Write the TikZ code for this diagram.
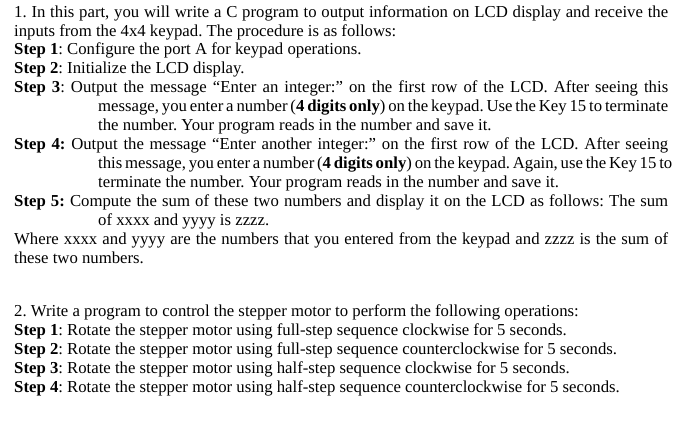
\documentclass[tikz,border=0pt]{standalone}
\usepackage{fontspec}
\setmainfont{Liberation Serif}
\frenchspacing
\begin{document}
\begin{tikzpicture}[x=1bp,y=-1bp,
  ln/.style={anchor=base west,inner sep=0pt,font=\fontsize{16.8}{19}\selectfont}]
\useasboundingbox (0,0) rectangle (700,428);
\fill[white] (0,0) rectangle (700,428);
\node[ln] (l1) at (14,17) {\makebox[654bp][s]{1. In this part, you will write a C program to output information on LCD display and receive the}};
\node[ln] (l2) at (14,36) {inputs from the 4x4 keypad. The procedure is as follows:};
\node[ln] (l3) at (14,54) {\textbf{Step 1}: Configure the port A for keypad operations.};
\node[ln] (l4) at (14,73) {\textbf{Step 2}: Initialize the LCD display.};
\node[ln] (l5) at (14,92) {\makebox[654bp][s]{\textbf{Step 3}: Output the message ``Enter an integer:'' on the first row of the LCD. After seeing this}};
\node[ln] (l6) at (98,111) {\makebox[570bp][s]{message, you enter a number (\textbf{4 digits only}) on the keypad. Use the Key 15 to terminate}};
\node[ln] (l7) at (98,130) {the number. Your program reads in the number and save it.};
\node[ln] (l8) at (14,149) {\makebox[654bp][s]{\textbf{Step 4:} Output the message ``Enter another integer:'' on the first row of the LCD. After seeing}};
\node[ln] (l9) at (98,168) {\makebox[570bp][s]{this message, you enter a number (\textbf{4 digits only}) on the keypad. Again, use the Key 15 to}};
\node[ln] (l10) at (98,187) {terminate the number. Your program reads in the number and save it.};
\node[ln] (l11) at (14,206) {\makebox[654bp][s]{\textbf{Step 5:} Compute the sum of these two numbers and display it on the LCD as follows: The sum}};
\node[ln] (l12) at (98,225) {of xxxx and yyyy is zzzz.};
\node[ln] (l13) at (14,244) {\makebox[654bp][s]{Where xxxx and yyyy are the numbers that you entered from the keypad and zzzz is the sum of}};
\node[ln] (l14) at (14,263) {these two numbers.};
\node[ln] (m1) at (14,316) {2. Write a program to control the stepper motor to perform the following operations:};
\node[ln] (m2) at (14,335) {\textbf{Step 1}: Rotate the stepper motor using full-step sequence clockwise for 5 seconds.};
\node[ln] (m3) at (14,354) {\textbf{Step 2}: Rotate the stepper motor using full-step sequence counterclockwise for 5 seconds.};
\node[ln] (m4) at (14,373) {\textbf{Step 3}: Rotate the stepper motor using half-step sequence clockwise for 5 seconds.};
\node[ln] (m5) at (14,392) {\textbf{Step 4}: Rotate the stepper motor using half-step sequence counterclockwise for 5 seconds.};
\end{tikzpicture}
\end{document}
